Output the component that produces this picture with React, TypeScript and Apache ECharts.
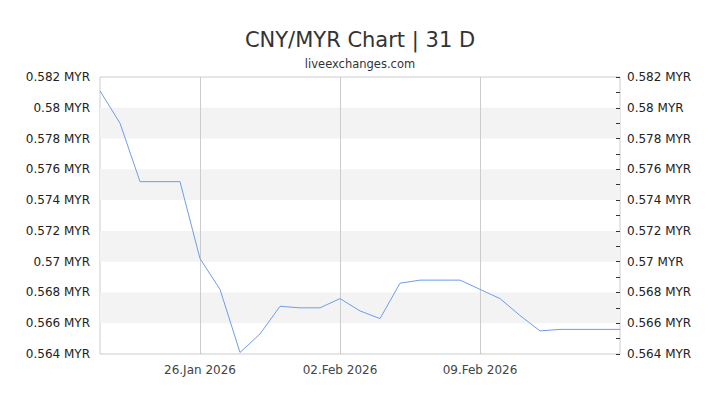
import React, { useEffect, useRef } from 'react';
import * as echarts from 'echarts';

const dates = [
  '21.Jan 2026', '22.Jan 2026', '23.Jan 2026', '24.Jan 2026', '25.Jan 2026',
  '26.Jan 2026', '27.Jan 2026', '28.Jan 2026', '29.Jan 2026', '30.Jan 2026',
  '31.Jan 2026', '01.Feb 2026', '02.Feb 2026', '03.Feb 2026', '04.Feb 2026',
  '05.Feb 2026', '06.Feb 2026', '07.Feb 2026', '08.Feb 2026', '09.Feb 2026',
  '10.Feb 2026', '11.Feb 2026', '12.Feb 2026', '13.Feb 2026', '14.Feb 2026',
  '15.Feb 2026', '16.Feb 2026'
];

const rates = [
  0.5811, 0.5790, 0.5752, 0.5752, 0.5752,
  0.5702, 0.5682, 0.5641, 0.5653, 0.5671,
  0.5670, 0.5670, 0.5676, 0.5668, 0.5663,
  0.5686, 0.5688, 0.5688, 0.5688, 0.5682,
  0.5676, 0.5665, 0.5655, 0.5656, 0.5656,
  0.5656, 0.5656
];

// dates that get a label and a vertical grid line
const markedDates = ['26.Jan 2026', '02.Feb 2026', '09.Feb 2026'];

const yMin = 0.564;
const yMax = 0.582;
const yStep = 0.002;

const fmt = (v: number) => `${parseFloat(v.toFixed(3))} MYR`;

const App: React.FC = () => {
  const chartRef = useRef<HTMLDivElement>(null);

  useEffect(() => {
    document.body.style.margin = '0';
    if (!chartRef.current) return;
    const chart = echarts.init(chartRef.current, null, { renderer: 'svg' });
    const font = 'DejaVu Sans';
    const showAt = (_i: number, value: string) => markedDates.includes(value);

    chart.setOption({
      animation: false,
      textStyle: { fontFamily: font },
      title: [
        {
          text: 'CNY/MYR Chart | 31 D',
          left: 'center',
          top: 24,
          textStyle: { fontSize: 21, fontWeight: 'normal', color: '#333', fontFamily: font }
        },
        {
          text: 'liveexchanges.com',
          left: 'center',
          top: 53,
          textStyle: { fontSize: 11.5, fontWeight: 'normal', color: '#333', fontFamily: font }
        }
      ],
      grid: {
        left: 100,
        right: 100,
        top: 77,
        bottom: 51,
        show: true,
        borderColor: '#ccc',
        borderWidth: 1
      },
      xAxis: {
        type: 'category',
        data: dates,
        boundaryGap: false,
        axisLine: { show: false },
        axisTick: { show: false },
        axisLabel: {
          interval: showAt,
          color: '#444',
          fontSize: 12,
          margin: 10,
          fontFamily: font
        },
        splitLine: {
          show: true,
          interval: showAt,
          lineStyle: { color: '#ccc', width: 1 }
        }
      },
      yAxis: [
        {
          type: 'value',
          min: yMin,
          max: yMax,
          interval: yStep,
          position: 'left',
          axisLine: { show: false },
          axisTick: { show: false },
          splitLine: { show: false },
          splitArea: {
            show: true,
            areaStyle: { color: ['rgba(255,255,255,0)', '#f3f3f3'] }
          },
          axisLabel: {
            formatter: fmt,
            color: '#222',
            fontSize: 12,
            margin: 10,
            fontFamily: font
          }
        },
        {
          type: 'value',
          min: yMin,
          max: yMax,
          interval: yStep,
          position: 'right',
          axisLine: { show: false },
          axisTick: { show: true, inside: true, length: 4, lineStyle: { color: '#333' } },
          minorTick: { show: true, splitNumber: 2, length: 4, lineStyle: { color: '#333' } },
          splitLine: { show: false },
          axisLabel: {
            formatter: fmt,
            color: '#222',
            fontSize: 12,
            margin: 7,
            fontFamily: font
          }
        }
      ],
      series: [
        {
          type: 'line',
          data: rates,
          yAxisIndex: 0,
          showSymbol: false,
          symbol: 'none',
          lineStyle: { color: '#6f9de9', width: 1 }
        }
      ]
    });

    return () => {
      chart.dispose();
    };
  }, []);

  return <div ref={chartRef} style={{ width: 720, height: 405 }} />;
};

export default App;
